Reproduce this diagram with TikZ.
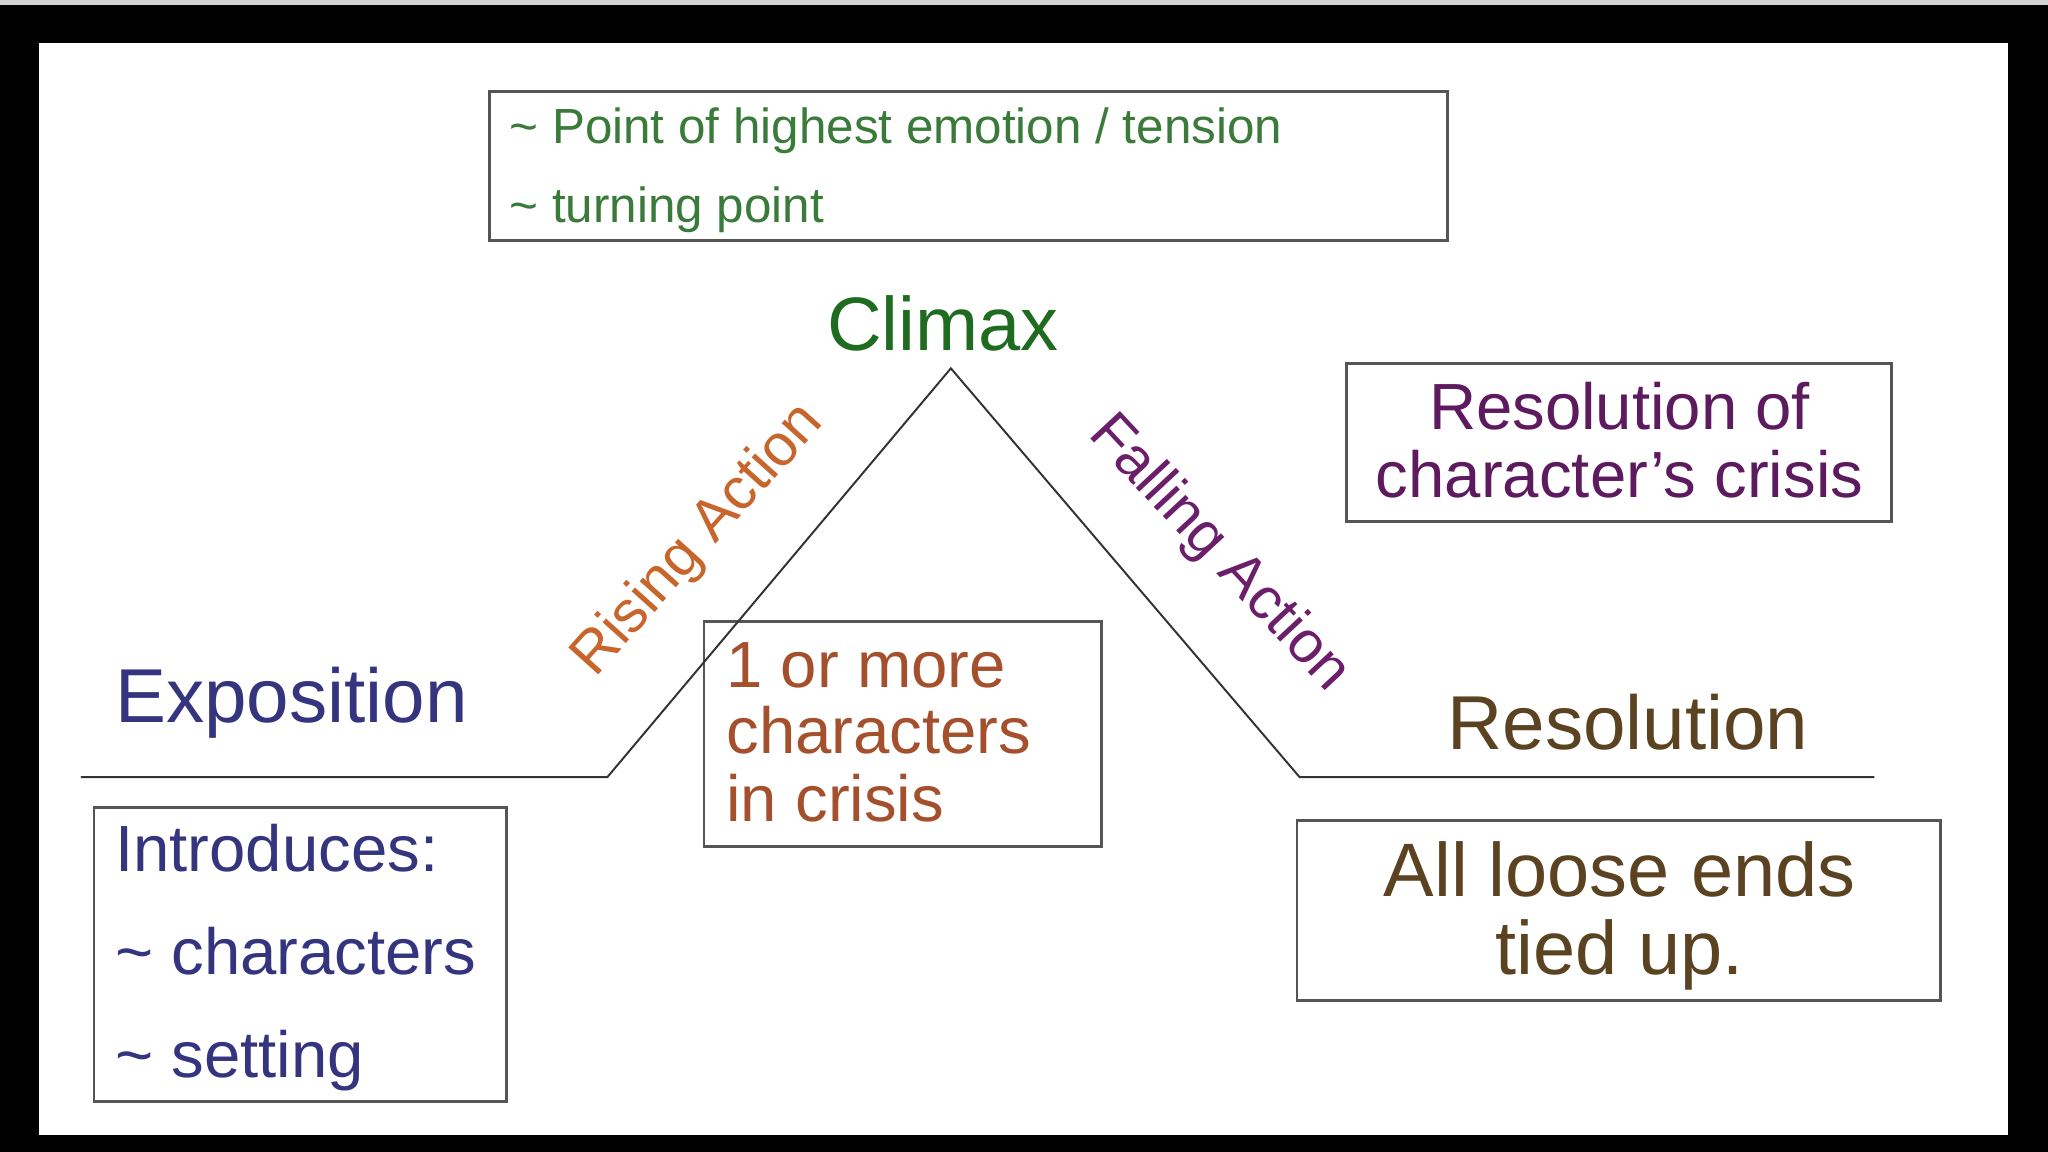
\documentclass[tikz,border=0pt]{standalone}
\usepackage{fontspec}
\setmainfont{Liberation Sans}
\newcommand\myfs[1]{\fontsize{#1}{#1}\selectfont}
\definecolor{boxgray}{HTML}{555555}
\definecolor{topgreen}{HTML}{3A7A3A}
\definecolor{climgreen}{HTML}{1F6B1F}
\definecolor{navy}{HTML}{34347F}
\definecolor{riseorange}{HTML}{C8652C}
\definecolor{crisisbrown}{HTML}{A5502C}
\definecolor{fallpurple}{HTML}{6B1F6B}
\definecolor{respurple}{HTML}{5E1A5E}
\definecolor{resbrown}{HTML}{5B4322}
\begin{document}
\begin{tikzpicture}[x=1pt,y=-1pt,
  box/.style={draw=boxgray, line width=2.2pt, inner sep=0pt, rectangle},
  lt/.style={inner sep=0pt, anchor=base west},
  ct/.style={inner sep=0pt, anchor=base}]
% frame
\useasboundingbox (0,0) rectangle (1568,882);
\fill[black] (0,0) rectangle (1568,882);
\fill[gray!35] (0,0) rectangle (1568,4);
\fill[white] (30,33) rectangle (1537,869);

% boxes
\node[box, minimum width=733pt, minimum height=114pt] (topbox) at (741.5,127) {};
\node[box, minimum width=417pt, minimum height=121pt] (resbox) at (1239.5,338.5) {};
\node[box, minimum width=304pt, minimum height=172pt] (crisisbox) at (691,562) {};
\node[box, minimum width=316pt, minimum height=225pt] (introbox) at (230,730.5) {};
\node[box, minimum width=493pt, minimum height=138pt] (loosebox) at (1239.5,697) {};

% plot line
\coordinate (L0) at (62,595);
\coordinate (L1) at (465,595);
\coordinate (apex) at (728,282);
\coordinate (R1) at (995,595);
\coordinate (R0) at (1435,595);
\draw[line width=1.5pt, black!80] (L0) -- (L1) -- (apex) -- (R1) -- (R0);

% top box text
\node[lt, text=topgreen, font=\myfs{37.8}] (t1) at (390,110) {\char`\~{} Point of highest emotion / tension};
\node[lt, text=topgreen, font=\myfs{37.8}] (t2) at (390,170) {\char`\~{} turning point};

% labels
\node[ct, text=climgreen, font=\myfs{58}] (climax) at (722,268) {Climax};
\node[lt, text=navy, font=\myfs{58.5}] (expo) at (88,553) {Exposition};
\node[lt, text=resbrown, font=\myfs{58.5}] (resol) at (1108,574) {Resolution};
\node[rotate=48, inner sep=0pt, text=riseorange, font=\myfs{45}] (rise) at (535,414) {Rising Action};
\node[rotate=-47, inner sep=0pt, text=fallpurple, font=\myfs{45}] (fall) at (933,424) {Falling Action};

% resolution of crisis box text
\node[ct, text=respurple, font=\myfs{50}] (r1) at (1240,329) {Resolution of};
\node[ct, text=respurple, font=\myfs{50}] (r2) at (1240,381) {character's crisis};

% crisis box text
\node[lt, text=crisisbrown, font=\myfs{50}] (c1) at (556,526) {1 or more};
\node[lt, text=crisisbrown, font=\myfs{50}] (c2) at (556,577) {characters};
\node[lt, text=crisisbrown, font=\myfs{50}] (c3) at (556,629) {in crisis};

% intro box text
\node[lt, text=navy, font=\myfs{50}] (i1) at (88,667) {Introduces:};
\node[lt, text=navy, font=\myfs{50}] (i2) at (88,746) {\char`\~{} characters};
\node[lt, text=navy, font=\myfs{50}] (i3) at (88,825) {\char`\~{} setting};

% loose ends box text
\node[ct, text=resbrown, font=\myfs{58}] (l1) at (1240,686) {All loose ends};
\node[ct, text=resbrown, font=\myfs{58}] (l2) at (1240,746) {tied up.};
\end{tikzpicture}
\end{document}
